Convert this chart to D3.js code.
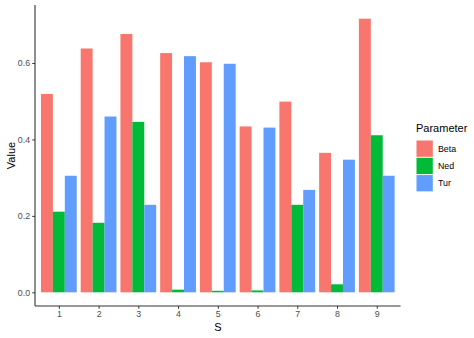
<!DOCTYPE html>
<html><head><meta charset="utf-8">
<script src="https://cdn.jsdelivr.net/npm/d3@7"></script>
<style>body{margin:0;background:#fff}svg{display:block;font-family:"Liberation Sans",Arial,sans-serif}</style>
</head><body><svg id="c" width="474" height="338"></svg>
<script>
const categories = ["1","2","3","4","5","6","7","8","9"];
const seriesNames = ["Beta","Ned","Tur"];
const beta = [0.519,0.638,0.676,0.626,0.602,0.434,0.499,0.365,0.716];
const ned  = [0.211,0.182,0.446,0.007,0.004,0.005,0.229,0.021,0.411];
const tur  = [0.305,0.460,0.229,0.618,0.598,0.431,0.268,0.347,0.305];
const colors = ["#F8766D","#00BA38","#619CFF"];
const yTicks = [0,0.2,0.4,0.6];

const series = [beta, ned, tur];
const svg = d3.select("#c");
const L = 35, R = 400.6, T = 5, B = 306;
const maxV = d3.max(series.flat());
const pad = maxV*0.05;
const y = d3.scaleLinear().domain([-pad, maxV+pad]).range([B, T]);
const step = (R-L)/(categories.length + 0.2);
const xc = d3.scalePoint().domain(categories).range([L+0.6*step, R-0.6*step]);
const bw = step*0.9;
const xs = d3.scaleBand().domain(seriesNames).range([-bw/2, bw/2]);

const g = svg.append("g");
categories.forEach((c,i)=>{
  seriesNames.forEach((s,j)=>{
    const v = series[j][i];
    g.append("rect")
      .attr("x", xc(c)+xs(s)).attr("width", xs.bandwidth())
      .attr("y", y(v)).attr("height", y(0)-y(v))
      .attr("fill", colors[j]);
  });
});

const yAxis = d3.axisLeft(y).tickValues(yTicks).tickFormat(d3.format(".1f")).tickSize(2.75).tickPadding(2.2);
const ya = svg.append("g").attr("transform",`translate(${L},0)`).call(yAxis);
ya.select(".domain").attr("d",`M0,${T}V${B}`).attr("stroke","#333").attr("stroke-width",1.1);
ya.selectAll(".tick line").attr("stroke","#333");
ya.selectAll(".tick text").attr("fill","#4D4D4D").style("font-size","8.8px");

const xAxis = d3.axisBottom(xc).tickSize(2.75).tickPadding(2.2);
const xa = svg.append("g").attr("transform",`translate(0,${B})`).call(xAxis);
xa.select(".domain").attr("d",`M${L},0H${R}`).attr("stroke","#333").attr("stroke-width",1.1);
xa.selectAll(".tick line").attr("stroke","#333");
xa.selectAll(".tick text").attr("fill","#4D4D4D").style("font-size","8.8px");

svg.append("text").attr("x",(L+R)/2).attr("y",330.5).attr("text-anchor","middle")
  .style("font-size","11px").attr("fill","#000").text("S");
svg.append("text").attr("transform",`translate(14.5,${(T+B)/2}) rotate(-90)`).attr("text-anchor","middle")
  .style("font-size","11px").attr("fill","#000").text("Value");

const lg = svg.append("g").attr("transform","translate(416,0)");
lg.append("text").attr("x",0).attr("y",132).style("font-size","11px").attr("fill","#000").text("Parameter");
seriesNames.forEach((s,j)=>{
  const yy = 140 + j*17.28;
  lg.append("rect").attr("x",0.5).attr("y",yy+0.5).attr("width",16.3).attr("height",16.3).attr("fill",colors[j]);
  lg.append("text").attr("x",22).attr("y",yy+8.64).attr("dy","0.35em").style("font-size","8.8px").attr("fill","#000").text(s);
});
</script></body></html>
